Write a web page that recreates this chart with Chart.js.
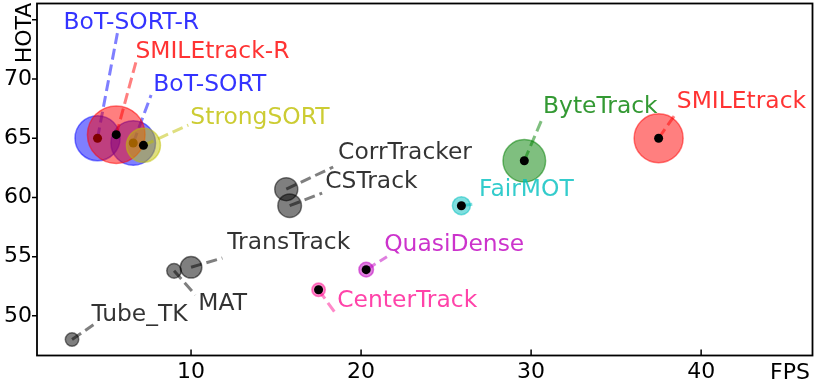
<!DOCTYPE html>
<html>
<head>
<meta charset="utf-8">
<script src="https://cdn.jsdelivr.net/npm/chart.js@4.4.1/dist/chart.umd.min.js"></script>
<style>
  html, body { margin: 0; padding: 0; background: #fff; }
  #wrap { width: 818px; height: 383px; position: relative; }
</style>
</head>
<body>
<div id="wrap"><canvas id="chart"></canvas></div>
<script>
// trackers in drawing order (later ones are painted on top)
const trackers   = ["Tube_TK", "MAT", "TransTrack", "CSTrack", "CorrTracker", "CenterTrack", "QuasiDense", "FairMOT", "ByteTrack", "SMILEtrack", "BoT-SORT-R", "BoT-SORT", "SMILEtrack-R", "StrongSORT"];
const fps        = [3.0, 9.0, 10.0, 15.8, 15.6, 17.5, 20.3, 25.9, 29.6, 37.5, 4.5, 6.6, 5.6, 7.2];
const hota       = [48.0, 53.8, 54.1, 59.3, 60.7, 52.2, 53.9, 59.3, 63.1, 65.0, 65.0, 64.6, 65.3, 64.4];
const bubbleSize = [6.7, 7.3, 10.8, 11.8, 11.5, 6.7, 7.3, 9, 21.3, 24.5, 22.5, 22.3, 28.8, 17];

// where each name sits (left edge, middle) and where its dashed leader stops, in data units
const labelAt = [[4.14, 50.07], [10.43, 51.0], [12.13, 56.15], [17.89, 61.3], [18.65, 63.75], [18.6, 51.28], [21.36, 55.98], [26.94, 60.62], [30.7, 67.66], [38.57, 68.08], [2.5, 74.73], [7.78, 69.49], [6.73, 72.28], [9.96, 66.71]];
const leaderTo = [[4.26, 49.24], [10.25, 51.76], [11.84, 54.88], [17.71, 60.37], [18.36, 62.57], [18.48, 50.24], [21.52, 54.99], [26.59, 59.44], [30.62, 66.54], [38.45, 66.96], [5.67, 73.89], [7.65, 68.65], [6.79, 71.6], [9.84, 66.11]];

const xTicks = [10, 20, 30, 40];
const yTicks = [50, 55, 60, 65, 70, 75];

const tones = {
  gray: [0, 0, 0],
  pink: [255, 20, 147],
  magenta: [191, 0, 191],
  cyan: [0, 191, 191],
  green: [0, 128, 0],
  red: [255, 0, 0],
  blue: [0, 0, 255],
  yellow: [191, 191, 0]
};
const tone = ["gray", "gray", "gray", "gray", "gray", "pink", "magenta", "cyan", "green", "red", "blue", "blue", "red", "yellow"];
const hasDot = tone.map(t => t !== "gray");

function rgba(name, a) {
  const c = tones[name];
  return `rgba(${c[0]}, ${c[1]}, ${c[2]}, ${a})`;
}

Chart.defaults.font.family = "'DejaVu Sans', sans-serif";

const datasets = [];
trackers.forEach((name, i) => {
  datasets.push({
    label: name,
    kind: "bubble",
    tracker: i,
    data: [{ x: fps[i], y: hota[i], r: bubbleSize[i] }],
    backgroundColor: rgba(tone[i], 0.5),
    borderColor: rgba(tone[i], 0.5),
    borderWidth: 1.5,
    order: 100 - 2 * i
  });
  if (hasDot[i]) {
    datasets.push({
      label: name + " centre",
      kind: "dot",
      tracker: i,
      data: [{ x: fps[i], y: hota[i], r: 4.5 }],
      backgroundColor: "#000",
      borderWidth: 0,
      order: 99 - 2 * i
    });
  }
});

const annotate = {
  id: "annotate",
  // dashed leader drawn right after its own bubble, so later bubbles cover it
  afterDatasetDraw(chart, args) {
    const ds = chart.data.datasets[args.index];
    if (ds.kind !== "bubble") return;
    const i = ds.tracker;
    const { ctx, scales: { x, y } } = chart;
    ctx.save();
    ctx.strokeStyle = rgba(tone[i], 0.5);
    ctx.lineWidth = 3;
    ctx.setLineDash([11, 5]);
    ctx.beginPath();
    ctx.moveTo(x.getPixelForValue(fps[i]), y.getPixelForValue(hota[i]));
    ctx.lineTo(x.getPixelForValue(leaderTo[i][0]), y.getPixelForValue(leaderTo[i][1]));
    ctx.stroke();
    ctx.restore();
  },
  afterDraw(chart) {
    const { ctx, chartArea: a, scales: { x, y } } = chart;
    ctx.save();

    // frame
    ctx.strokeStyle = "#000";
    ctx.lineWidth = 1.8;
    ctx.strokeRect(a.left, a.top, a.right - a.left, a.bottom - a.top);

    // ticks: x inward, y outward
    ctx.lineWidth = 1.5;
    ctx.beginPath();
    xTicks.forEach(v => {
      const px = x.getPixelForValue(v);
      ctx.moveTo(px, a.bottom);
      ctx.lineTo(px, a.bottom - 6);
    });
    yTicks.forEach(v => {
      const py = y.getPixelForValue(v);
      ctx.moveTo(a.left, py);
      ctx.lineTo(a.left - 5, py);
    });
    ctx.stroke();

    // names
    ctx.font = "23.4px 'DejaVu Sans'";
    ctx.textAlign = "left";
    ctx.textBaseline = "middle";
    trackers.forEach((name, i) => {
      ctx.fillStyle = rgba(tone[i], 0.8);
      ctx.fillText(name, x.getPixelForValue(labelAt[i][0]), y.getPixelForValue(labelAt[i][1]));
    });

    // axis titles
    ctx.font = "22px 'DejaVu Sans'";
    ctx.fillStyle = "#000";
    ctx.textAlign = "right";
    ctx.textBaseline = "alphabetic";
    ctx.fillText("FPS", 810, 378.5);
    ctx.translate(31, 33);
    ctx.rotate(-Math.PI / 2);
    ctx.textAlign = "center";
    ctx.fillText("HOTA", 0, 0);
    ctx.restore();
  }
};

new Chart(document.getElementById("chart"), {
  type: "bubble",
  data: { datasets },
  options: {
    responsive: true,
    maintainAspectRatio: false,
    animation: false,
    events: [],
    layout: { autoPadding: false, padding: { top: 3.5, right: 5.5, left: 0, bottom: 0 } },
    plugins: {
      legend: { display: false },
      tooltip: { enabled: false }
    },
    scales: {
      x: {
        type: "linear",
        min: 0.94,
        max: 46.55,
        afterBuildTicks: s => { s.ticks = xTicks.map(v => ({ value: v })); },
        afterFit: s => { s.height = 27.5; s.paddingLeft = 0; s.paddingRight = 0; },
        grid: { display: false, drawTicks: false },
        border: { display: false },
        ticks: { color: "#000", font: { size: 22 }, padding: 4, maxRotation: 0 }
      },
      y: {
        type: "linear",
        min: 46.65,
        max: 76.38,
        afterBuildTicks: s => { s.ticks = yTicks.map(v => ({ value: v })); },
        afterFit: s => { s.width = 37; s.paddingTop = 0; s.paddingBottom = 0; },
        grid: { display: false, drawTicks: false },
        border: { display: false },
        ticks: {
          color: "#000",
          font: { size: 22 },
          padding: 5,
          callback: v => (v === 75 ? "" : v)
        }
      }
    }
  },
  plugins: [annotate]
});
</script>
</body>
</html>
